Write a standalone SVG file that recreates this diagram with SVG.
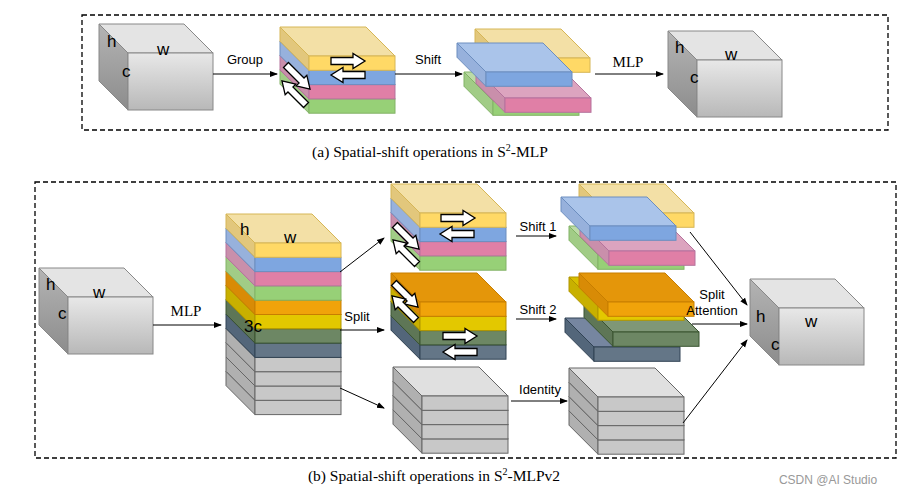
<svg xmlns="http://www.w3.org/2000/svg" xmlns:xlink="http://www.w3.org/1999/xlink" width="903" height="496" viewBox="0 0 903 496">
<style>
text{font-family:"Liberation Sans",Arial,sans-serif;fill:#000}
.lbl{font-size:13px}
.dim{font-size:17px}
.ser{font-family:"Liberation Serif","Times New Roman",serif;font-size:15px}
.cap{font-family:"Liberation Serif","Times New Roman",serif;font-size:15.5px}
.frame{fill:none;stroke:#000;stroke-width:1.3;stroke-dasharray:5,3}
.con{fill:none;stroke:#000;stroke-width:1;marker-end:url(#ah)}
.wa{fill:#fff;stroke:#000;stroke-width:1.3}
</style>
<defs>
<marker id="ah" markerWidth="8" markerHeight="8" refX="7" refY="4" orient="auto" markerUnits="userSpaceOnUse"><path d="M0,1 L8,4 L0,7 Z" fill="#000"/></marker>
<linearGradient id="gf" x1="0" y1="0" x2="0" y2="1"><stop offset="0" stop-color="#e8e8e8"/><stop offset="1" stop-color="#b8b8b8"/></linearGradient>
<linearGradient id="gl" x1="0" y1="0" x2="0" y2="1"><stop offset="0" stop-color="#b4b4b4"/><stop offset="1" stop-color="#8c8c8c"/></linearGradient>
<g id="cube" stroke="#888" stroke-width="1">
<polygon points="-29,-29 56,-29 85,0 0,0" fill="#e4e4e4"/>
<polygon points="-29,-29 0,0 0,57 -29,28" fill="url(#gl)"/>
<rect x="0" y="0" width="85" height="57" fill="url(#gf)"/>
</g>
<path id="wa" d="M-17,-3.5 L5,-3.5 L5,-7.5 L17,0 L5,7.5 L5,3.5 L-17,3.5 Z"/>
<g id="sy" stroke="#d6b656"><polygon points="-29,-29 57,-29 86,0 0,0" fill="#f3e0a6"/><polygon points="-29,-29 0,0 0,14.3 -29,-14.7" fill="#e2c77c"/><rect width="86" height="14.3" fill="#ffd966"/></g>
<g id="sb" stroke="#6c8ebf"><polygon points="-29,-29 57,-29 86,0 0,0" fill="#aac4ea"/><polygon points="-29,-29 0,0 0,14.3 -29,-14.7" fill="#97b1dc"/><rect width="86" height="14.3" fill="#7ea6e0"/></g>
<g id="sp" stroke="#b5739d"><polygon points="-29,-29 57,-29 86,0 0,0" fill="#dca4bf"/><polygon points="-29,-29 0,0 0,14.3 -29,-14.7" fill="#c98fab"/><rect width="86" height="14.3" fill="#e07fa6"/></g>
<g id="sg" stroke="#82b366"><polygon points="-29,-29 57,-29 86,0 0,0" fill="#bcdba6"/><polygon points="-29,-29 0,0 0,14.3 -29,-14.7" fill="#a1cc86"/><rect width="86" height="14.3" fill="#97d077"/></g>
<g id="so" stroke="#c77e00"><polygon points="-29,-29 57,-29 86,0 0,0" fill="#e4960a"/><polygon points="-29,-29 0,0 0,14.3 -29,-14.7" fill="#d88b06"/><rect width="86" height="14.3" fill="#f0a30a"/></g>
<g id="sd" stroke="#b09500"><polygon points="-29,-29 57,-29 86,0 0,0" fill="#d8bf00"/><polygon points="-29,-29 0,0 0,14.3 -29,-14.7" fill="#c8b000"/><rect width="86" height="14.3" fill="#e3c800"/></g>
<g id="sn" stroke="#3a5431"><polygon points="-29,-29 57,-29 86,0 0,0" fill="#7f9777"/><polygon points="-29,-29 0,0 0,14.3 -29,-14.7" fill="#5e7656"/><rect width="86" height="14.3" fill="#6d8764"/></g>
<g id="ss" stroke="#314354"><polygon points="-29,-29 57,-29 86,0 0,0" fill="#7686a0"/><polygon points="-29,-29 0,0 0,14.3 -29,-14.7" fill="#53667a"/><rect width="86" height="14.3" fill="#647687"/></g>
<g id="sx" stroke="#666"><polygon points="-29,-29 57,-29 86,0 0,0" fill="#e0e0e0"/><polygon points="-29,-29 0,0 0,14.3 -29,-14.7" fill="#b0b0b0"/><rect width="86" height="14.3" fill="#c8c8c8"/></g>
</defs>
<rect width="903" height="496" fill="#fff"/>
<rect class="frame" x="82" y="15" width="806" height="115"/>
<rect class="frame" x="35" y="182" width="861" height="276"/>

<g id="a-cube-in"><use href="#cube" x="128" y="53"/><text class="dim" x="107" y="47">h</text><text class="dim" x="157" y="55">w</text><text class="dim" x="122" y="77">c</text></g>
<g id="a-grouped">
<use href="#sg" x="309" y="98.9"/><use href="#sp" x="309" y="84.6"/><use href="#sb" x="309" y="70.3"/><use href="#sy" x="309" y="56"/>
<use href="#wa" class="wa" transform="translate(348,61)"/>
<use href="#wa" class="wa" transform="translate(348,75) rotate(180)"/>
<use href="#wa" class="wa" transform="translate(298,77) rotate(45)"/>
<use href="#wa" class="wa" transform="translate(294,93) rotate(225)"/>
</g>
<g id="a-shifted"><use href="#sg" x="493" y="101"/><use href="#sp" x="505" y="98"/><use href="#sy" x="504" y="58"/><use href="#sb" x="486" y="72"/></g>
<g id="a-cube-out"><use href="#cube" x="697" y="60"/><text class="dim" x="675" y="53">h</text><text class="dim" x="725" y="60">w</text><text class="dim" x="690" y="83">c</text></g>

<g id="b-cube-in"><use href="#cube" x="68" y="297"/><text class="dim" x="46" y="290">h</text><text class="dim" x="93" y="298">w</text><text class="dim" x="58" y="319">c</text></g>
<g id="b-tall">
<use href="#sx" x="255" y="400.3"/><use href="#sx" x="255" y="386"/><use href="#sx" x="255" y="371.7"/><use href="#sx" x="255" y="357.4"/>
<use href="#ss" x="255" y="343.1"/><use href="#sn" x="255" y="328.8"/><use href="#sd" x="255" y="314.5"/><use href="#so" x="255" y="300.2"/>
<use href="#sg" x="255" y="285.9"/><use href="#sp" x="255" y="271.6"/><use href="#sb" x="255" y="257.3"/><use href="#sy" x="255" y="243"/>
<text class="dim" x="240" y="235">h</text><text class="dim" x="284" y="243">w</text><text class="dim" x="244" y="332">3c</text>
</g>
<g id="b-group1">
<use href="#sg" x="420" y="255.9"/><use href="#sp" x="420" y="241.6"/><use href="#sb" x="420" y="227.3"/><use href="#sy" x="420" y="213"/>
<use href="#wa" class="wa" transform="translate(458,218)"/>
<use href="#wa" class="wa" transform="translate(457,234) rotate(180)"/>
<use href="#wa" class="wa" transform="translate(407,237) rotate(45)"/>
<use href="#wa" class="wa" transform="translate(405,252) rotate(225)"/>
</g>
<g id="b-group2">
<use href="#ss" x="420" y="344.9"/><use href="#sn" x="420" y="330.6"/><use href="#sd" x="420" y="316.3"/><use href="#so" x="420" y="302"/>
<use href="#wa" class="wa" transform="translate(406,295) rotate(45)"/>
<use href="#wa" class="wa" transform="translate(404,308) rotate(225)"/>
<use href="#wa" class="wa" transform="translate(460,336)"/>
<use href="#wa" class="wa" transform="translate(460,352) rotate(180)"/>
</g>
<g id="b-group3"><use href="#sx" x="422" y="438.9"/><use href="#sx" x="422" y="424.6"/><use href="#sx" x="422" y="410.3"/><use href="#sx" x="422" y="396"/></g>
<g id="b-shift1"><use href="#sg" x="598" y="255"/><use href="#sp" x="609" y="251"/><use href="#sy" x="608" y="213"/><use href="#sb" x="590" y="226"/></g>
<g id="b-shift2"><use href="#ss" x="594" y="347"/><use href="#sn" x="613" y="332"/><use href="#sd" x="598" y="306"/><use href="#so" x="608" y="302"/></g>
<g id="b-identity"><use href="#sx" x="598" y="439.9"/><use href="#sx" x="598" y="425.6"/><use href="#sx" x="598" y="411.3"/><use href="#sx" x="598" y="397"/></g>
<g id="b-cube-out"><use href="#cube" x="779" y="308"/><text class="dim" x="756" y="322">h</text><text class="dim" x="805" y="327">w</text><text class="dim" x="771" y="350">c</text></g>

<g id="connectors">
<path class="con" d="M213,74 L277,74"/>
<path class="con" d="M395,74 L462,74"/>
<path class="con" d="M595,74 L663,74"/>
<path class="con" d="M153,325 L221,325"/>
<path class="con" d="M340,272 L384,238"/>
<path class="con" d="M340,330 L384,330"/>
<path class="con" d="M340,388 L384,408"/>
<path class="con" d="M516,236 L556,236"/>
<path class="con" d="M516,319 L556,319"/>
<path class="con" d="M511,401 L567,401"/>
<path class="con" d="M690,232 L747,305"/>
<path class="con" d="M692,324 L747,324"/>
<path class="con" d="M683,423 L747,340"/>
</g>
<g id="labels">
<text class="lbl" x="245" y="64" text-anchor="middle">Group</text>
<text class="lbl" x="428" y="64" text-anchor="middle">Shift</text>
<text class="ser" x="628" y="67" text-anchor="middle">MLP</text>
<text class="ser" x="186" y="316" text-anchor="middle">MLP</text>
<text class="lbl" x="357" y="321" text-anchor="middle">Split</text>
<text class="lbl" x="538" y="231" text-anchor="middle">Shift 1</text>
<text class="lbl" x="538" y="314" text-anchor="middle">Shift 2</text>
<text class="lbl" x="540" y="394" text-anchor="middle">Identity</text>
<text class="lbl" x="712" y="299" text-anchor="middle">Split</text>
<text class="lbl" x="712" y="315" text-anchor="middle">Attention</text>
<text class="cap" x="430" y="157" text-anchor="middle">(a)  Spatial-shift operations in S<tspan font-size="10" dy="-6">2</tspan><tspan dy="6">-MLP</tspan></text>
<text class="cap" x="434" y="481" text-anchor="middle">(b)  Spatial-shift operations in S<tspan font-size="10" dy="-6">2</tspan><tspan dy="6">-MLPv2</tspan></text>
<text x="828" y="484" text-anchor="middle" font-size="12" style="fill:#999">CSDN @AI Studio</text>
</g>
</svg>
